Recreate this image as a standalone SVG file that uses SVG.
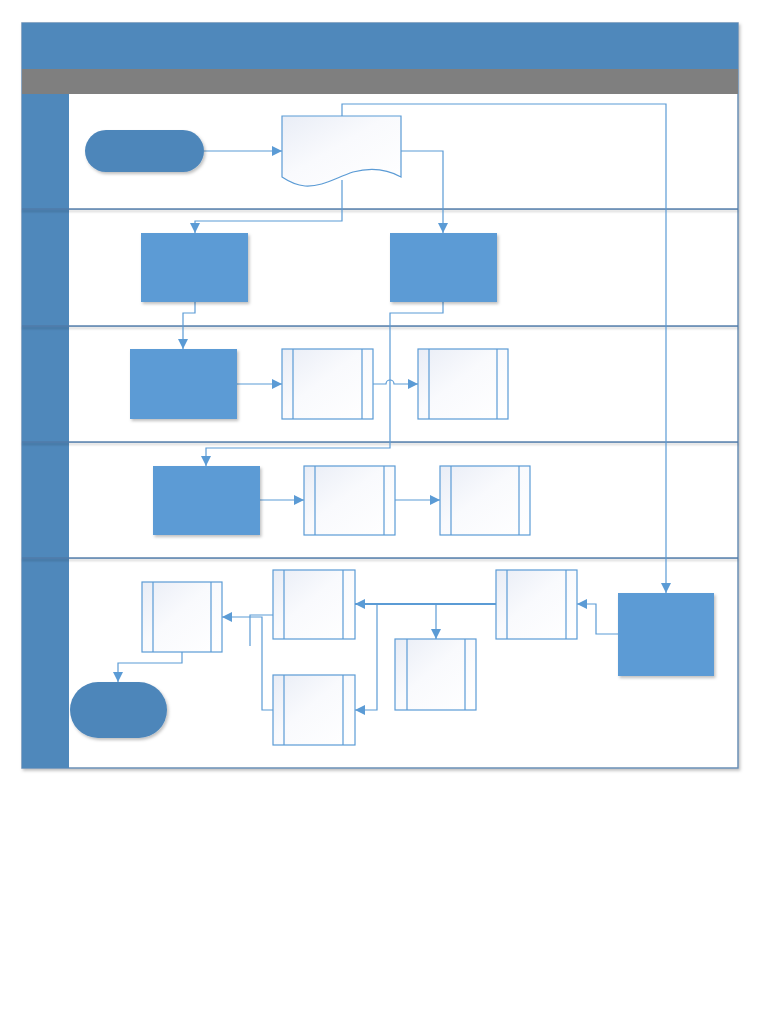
<svg xmlns="http://www.w3.org/2000/svg" width="768" height="1024" viewBox="0 0 768 1024">
<defs>
<linearGradient id="sg" x1="0" y1="0" x2="1" y2="1">
<stop offset="0" stop-color="#E9EDF6"/>
<stop offset="0.45" stop-color="#F9FAFD"/>
<stop offset="1" stop-color="#FFFFFF"/>
</linearGradient>
<filter id="sh" x="-10%" y="-10%" width="130%" height="130%">
<feDropShadow dx="1.5" dy="2" stdDeviation="1.5" flood-color="#000" flood-opacity="0.25"/>
</filter>
<filter id="lsh" filterUnits="userSpaceOnUse" x="0" y="0" width="768" height="1024">
<feDropShadow dx="0" dy="2" stdDeviation="1.2" flood-color="#000" flood-opacity="0.2"/>
</filter>
<marker id="ah" viewBox="0 0 10 10" refX="10" refY="5" markerWidth="10" markerHeight="10" markerUnits="userSpaceOnUse" orient="auto">
<path d="M0,0 L10,5 L0,10 z" fill="#5B9BD5"/>
</marker>
</defs>
<style>
.proc{fill:#5B9BD5;filter:url(#sh)}
.term{fill:#4E86BA;filter:url(#sh)}
.sub{fill:url(#sg);stroke:#5B9BD5;stroke-width:1.2}
.inner{stroke:#5B9BD5;stroke-width:1.2}
.c{fill:none;stroke:#5B9BD5;stroke-width:1.2}
.ca{fill:none;stroke:#5B9BD5;stroke-width:1.2;marker-end:url(#ah)}
.lane{fill:#4F7BA8;filter:url(#lsh)}
</style>
<rect width="768" height="1024" fill="#FFFFFF"/>
<g id="frame">
<rect x="22" y="23" width="716" height="745" fill="#FFFFFF" stroke="#6A8FB5" stroke-width="1.5" filter="url(#sh)"/>
<rect x="22" y="23" width="716" height="46" fill="#4F88BB"/>
<rect x="22" y="69" width="716" height="25" fill="#7F7F7F"/>
<rect x="22" y="94" width="47" height="674" fill="#4F88BB"/>
<rect class="lane" x="22" y="208.3" width="716" height="1.5"/>
<rect class="lane" x="22" y="325.3" width="716" height="1.5"/>
<rect class="lane" x="22" y="441.3" width="716" height="1.5"/>
<rect class="lane" x="22" y="557.3" width="716" height="1.5"/>
</g>
<g id="connectors">
<line class="ca" x1="204" y1="151" x2="282" y2="151"/>
<polyline class="ca" points="342,116 342,104 666,104 666,593"/>
<polyline class="ca" points="401,151 443,151 443,233"/>
<polyline class="ca" points="342,180 342,221 195,221 195,233"/>
<polyline class="ca" points="195,302 195,313 183,313 183,349"/>
<polyline class="ca" points="443,302 443,313 390,313 390,448 206,448 206,466"/>
<line class="ca" x1="237" y1="384" x2="282" y2="384"/>
<path class="ca" d="M373,384 H386 A4,4 0 0 1 394,384 H418"/>
<line class="ca" x1="260" y1="500" x2="304" y2="500"/>
<line class="ca" x1="395" y1="500" x2="440" y2="500"/>
<polyline class="ca" points="618,634 596,634 596,604 577,604"/>
<line class="ca" x1="496" y1="604" x2="355" y2="604" style="stroke-width:1.8"/>
<polyline class="ca" points="436,604 436,639"/>
<polyline class="ca" points="377,604 377,710 355,710"/>
<polyline class="c" points="273,615 250,615 250,646"/>
<polyline class="ca" points="273,710 262,710 262,617 222,617"/>
<polyline class="ca" points="182,652 182,663 118,663 118,682"/>
</g>
<g id="start"><rect class="term" x="85" y="130" width="119" height="42" rx="21"/></g>
<g id="document"><path d="M282,116 H401 V177 C385,168 368,168 353,172 C335,178 322,187 305,186 C295,185 288,181 282,177 Z" fill="url(#sg)" stroke="#5B9BD5" stroke-width="1.2"/></g>
<g id="p1"><rect class="proc" x="141" y="233" width="107" height="69"/></g>
<g id="p2"><rect class="proc" x="390" y="233" width="107" height="69"/></g>
<g id="p3"><rect class="proc" x="130" y="349" width="107" height="70"/></g>
<g id="p4"><rect class="proc" x="153" y="466" width="107" height="69"/></g>
<g id="sA"><rect class="sub" x="282" y="349" width="91" height="70"/><line class="inner" x1="293" y1="349" x2="293" y2="419"/><line class="inner" x1="362" y1="349" x2="362" y2="419"/></g>
<g id="sB"><rect class="sub" x="418" y="349" width="90" height="70"/><line class="inner" x1="429" y1="349" x2="429" y2="419"/><line class="inner" x1="497" y1="349" x2="497" y2="419"/></g>
<g id="sC"><rect class="sub" x="304" y="466" width="91" height="69"/><line class="inner" x1="315" y1="466" x2="315" y2="535"/><line class="inner" x1="384" y1="466" x2="384" y2="535"/></g>
<g id="sD"><rect class="sub" x="440" y="466" width="90" height="69"/><line class="inner" x1="451" y1="466" x2="451" y2="535"/><line class="inner" x1="519" y1="466" x2="519" y2="535"/></g>
<g id="sE"><rect class="sub" x="142" y="582" width="80" height="70"/><line class="inner" x1="153" y1="582" x2="153" y2="652"/><line class="inner" x1="211" y1="582" x2="211" y2="652"/></g>
<g id="sF"><rect class="sub" x="273" y="570" width="82" height="69"/><line class="inner" x1="284" y1="570" x2="284" y2="639"/><line class="inner" x1="343" y1="570" x2="343" y2="639"/></g>
<g id="sG"><rect class="sub" x="273" y="675" width="82" height="70"/><line class="inner" x1="284" y1="675" x2="284" y2="745"/><line class="inner" x1="343" y1="675" x2="343" y2="745"/></g>
<g id="sH"><rect class="sub" x="395" y="639" width="81" height="71"/><line class="inner" x1="407" y1="639" x2="407" y2="710"/><line class="inner" x1="465" y1="639" x2="465" y2="710"/></g>
<g id="sI"><rect class="sub" x="496" y="570" width="81" height="69"/><line class="inner" x1="507" y1="570" x2="507" y2="639"/><line class="inner" x1="566" y1="570" x2="566" y2="639"/></g>
<g id="pJ"><rect class="proc" x="618" y="593" width="96" height="83"/></g>
<g id="end"><rect class="term" x="70" y="682" width="97" height="56" rx="28"/></g>
</svg>
